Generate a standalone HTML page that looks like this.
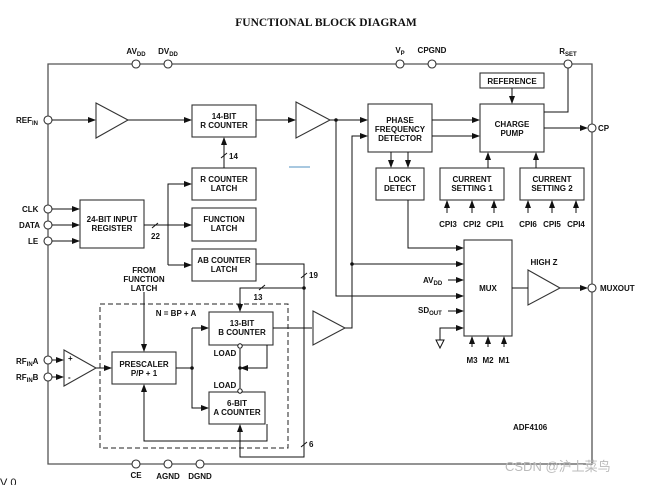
<!DOCTYPE html>
<html><head><meta charset="utf-8"><style>
body{margin:0;background:#fff}
svg{display:block}
text{font-family:"Liberation Sans",Arial,sans-serif;font-weight:bold;font-size:8px;fill:#111}
</style></head><body>
<svg width="657" height="485" viewBox="0 0 657 485" xmlns="http://www.w3.org/2000/svg">
<defs><marker id="a" markerWidth="8" markerHeight="6" refX="7" refY="3" orient="auto" markerUnits="userSpaceOnUse"><path d="M0,0L8,3L0,6z" fill="#111"/></marker></defs>
<text x="326" y="26" text-anchor="middle" style="font-family:'Liberation Serif',serif;font-size:11.5px">FUNCTIONAL BLOCK DIAGRAM</text>
<g fill="none" stroke="#333" stroke-width="1.3">
<path d="M48,64H592V464H48Z" stroke="#555"/>
</g>
<g fill="#fff" stroke="#333" stroke-width="1.1">
<circle cx="136" cy="64" r="4"/><circle cx="168" cy="64" r="4"/><circle cx="400" cy="64" r="4"/><circle cx="432" cy="64" r="4"/><circle cx="568" cy="64" r="4"/>
<circle cx="136" cy="464" r="4"/><circle cx="168" cy="464" r="4"/><circle cx="200" cy="464" r="4"/>
<circle cx="48" cy="120" r="4"/><circle cx="48" cy="209" r="4"/><circle cx="48" cy="225" r="4"/><circle cx="48" cy="241" r="4"/><circle cx="48" cy="360" r="4"/><circle cx="48" cy="377" r="4"/>
<circle cx="592" cy="128" r="4"/><circle cx="592" cy="288" r="4"/>
</g>
<g fill="#fff" stroke="#333" stroke-width="1.1">
<path d="M96,103L128,120L96,138Z"/><path d="M296,102L330,120L296,138Z"/><path d="M313,311L345,328L313,345Z"/><path d="M528,270L560,288L528,305Z"/><path d="M64,350L96,368L64,386Z"/>
<rect x="192" y="105" width="64" height="32"/><rect x="192" y="168" width="64" height="32"/><rect x="192" y="208" width="64" height="33"/><rect x="192" y="249" width="64" height="32"/>
<rect x="80" y="200" width="64" height="48"/>
<rect x="368" y="104" width="64" height="48"/><rect x="480" y="104" width="64" height="48"/><rect x="480" y="73" width="64" height="15"/>
<rect x="376" y="168" width="48" height="32"/><rect x="440" y="168" width="64" height="32"/><rect x="520" y="168" width="64" height="32"/>
<rect x="464" y="240" width="48" height="96"/>
<rect x="209" y="312" width="64" height="33"/><rect x="209" y="392" width="56" height="32"/><rect x="112" y="352" width="64" height="32"/>
</g>
<rect x="100" y="304" width="188" height="144" fill="none" stroke="#222" stroke-dasharray="5,3"/>
<g fill="none" stroke="#111" stroke-width="1">
<path d="M52,120H95" marker-end="url(#a)"/><path d="M128,120H191" marker-end="url(#a)"/><path d="M256,120H295" marker-end="url(#a)"/>
<path d="M52,209H79" marker-end="url(#a)"/><path d="M52,225H79" marker-end="url(#a)"/><path d="M52,241H79" marker-end="url(#a)"/>
<path d="M144,225H191" marker-end="url(#a)"/><path d="M168,265V184H191" marker-end="url(#a)"/><path d="M168,265H191" marker-end="url(#a)"/>
<path d="M224,168V138" marker-end="url(#a)"/><path d="M221,158l6,-5M152,228l6,-5"/>
<path d="M330,120H367" marker-end="url(#a)"/><path d="M336,120V296H463" marker-end="url(#a)"/>
<path d="M345,328H352V136H367" marker-end="url(#a)"/><path d="M352,264H463" marker-end="url(#a)"/>
<path d="M432,120H479" marker-end="url(#a)"/><path d="M432,136H479" marker-end="url(#a)"/>
<path d="M512,88V103" marker-end="url(#a)"/><path d="M544,112H568V68"/><path d="M544,128H587" marker-end="url(#a)"/>
<path d="M391,152V167" marker-end="url(#a)"/><path d="M408,152V167" marker-end="url(#a)"/>
<path d="M488,168V153" marker-end="url(#a)"/><path d="M536,168V153" marker-end="url(#a)"/>
<path d="M447,213V201" marker-end="url(#a)"/><path d="M472,213V201" marker-end="url(#a)"/><path d="M494,213V201" marker-end="url(#a)"/>
<path d="M528,213V201" marker-end="url(#a)"/><path d="M552,213V201" marker-end="url(#a)"/><path d="M576,213V201" marker-end="url(#a)"/>
<path d="M408,200V248H463" marker-end="url(#a)"/>
<path d="M448,280H463" marker-end="url(#a)"/><path d="M448,311H463" marker-end="url(#a)"/><path d="M440,340V328H463" marker-end="url(#a)"/>
<path d="M472,347V337" marker-end="url(#a)"/><path d="M488,347V337" marker-end="url(#a)"/><path d="M504,347V337" marker-end="url(#a)"/>
<path d="M512,288H528"/><path d="M560,288H587" marker-end="url(#a)"/>
<path d="M52,360H63" marker-end="url(#a)"/><path d="M52,377H63" marker-end="url(#a)"/><path d="M96,368H111" marker-end="url(#a)"/>
<path d="M144,292V351" marker-end="url(#a)"/>
<path d="M176,368H192"/><path d="M192,328H208" marker-end="url(#a)"/><path d="M192,328V408H208" marker-end="url(#a)"/>
<path d="M273,328H312"/>
<path d="M256,264H304V457H240V425" marker-end="url(#a)"/><path d="M304,288H240V311" marker-end="url(#a)"/>
<path d="M301,278l6,-5M259,290l6,-5M301,447l6,-5"/>
<path d="M240,349V388"/><path d="M267,345V368H241" marker-end="url(#a)"/>
<path d="M267,424V441H144V385" marker-end="url(#a)"/>
<path d="M436,340h8l-4,8z"/>
</g>
<g fill="#111"><circle cx="336" cy="120" r="1.8"/><circle cx="352" cy="264" r="1.8"/><circle cx="192" cy="368" r="1.8"/><circle cx="304" cy="288" r="1.8"/><circle cx="240" cy="368" r="1.8"/></g>
<g fill="#fff" stroke="#111"><circle cx="240" cy="346" r="2.2"/><circle cx="240" cy="391" r="2.2"/></g>
<path d="M289,167H310" stroke="#a8c8e0" stroke-width="2"/>
<g text-anchor="middle">
<text x="136" y="54">AV<tspan font-size="6" dy="2">DD</tspan></text><text x="168" y="54">DV<tspan font-size="6" dy="2">DD</tspan></text>
<text x="400" y="53">V<tspan font-size="6" dy="2">P</tspan></text><text x="432" y="53">CPGND</text><text x="568" y="54">R<tspan font-size="6" dy="2">SET</tspan></text>
<text x="136" y="478">CE</text><text x="168" y="479">AGND</text><text x="200" y="479">DGND</text>
<text x="224" y="119">14-BIT</text><text x="224" y="128">R COUNTER</text>
<text x="224" y="182">R COUNTER</text><text x="224" y="191">LATCH</text>
<text x="224" y="222">FUNCTION</text><text x="224" y="231">LATCH</text>
<text x="224" y="263">AB COUNTER</text><text x="224" y="272">LATCH</text>
<text x="112" y="222">24-BIT INPUT</text><text x="112" y="231">REGISTER</text>
<text x="400" y="123">PHASE</text><text x="400" y="132">FREQUENCY</text><text x="400" y="141">DETECTOR</text>
<text x="512" y="84">REFERENCE</text><text x="512" y="127">CHARGE</text><text x="512" y="136">PUMP</text>
<text x="400" y="182">LOCK</text><text x="400" y="191">DETECT</text>
<text x="472" y="182">CURRENT</text><text x="472" y="191">SETTING 1</text>
<text x="552" y="182">CURRENT</text><text x="552" y="191">SETTING 2</text>
<text x="448" y="227">CPI3</text><text x="472" y="227">CPI2</text><text x="495" y="227">CPI1</text>
<text x="528" y="227">CPI6</text><text x="552" y="227">CPI5</text><text x="576" y="227">CPI4</text>
<text x="488" y="291">MUX</text><text x="472" y="363">M3</text><text x="488" y="363">M2</text><text x="504" y="363">M1</text>
<text x="544" y="265">HIGH Z</text>
<text x="144" y="273">FROM</text><text x="144" y="282">FUNCTION</text><text x="144" y="291">LATCH</text>
<text x="176" y="316">N = BP + A</text>
<text x="242" y="326">13-BIT</text><text x="242" y="335">B COUNTER</text>
<text x="237" y="406">6-BIT</text><text x="237" y="415">A COUNTER</text>
<text x="144" y="367">PRESCALER</text><text x="144" y="376">P/P + 1</text>
<text x="225" y="356">LOAD</text><text x="225" y="388">LOAD</text>
<text x="258" y="300">13</text>
</g>
<text x="16" y="123">REF<tspan font-size="6" dy="2">IN</tspan></text>
<text x="22" y="212">CLK</text><text x="19" y="228">DATA</text><text x="28" y="244">LE</text>
<text x="16" y="364">RF<tspan font-size="6" dy="2">IN</tspan><tspan dy="-2">A</tspan></text>
<text x="16" y="380">RF<tspan font-size="6" dy="2">IN</tspan><tspan dy="-2">B</tspan></text>
<text x="229" y="159">14</text><text x="151" y="239">22</text><text x="309" y="278">19</text><text x="309" y="447">6</text>
<text x="598" y="131">CP</text><text x="600" y="291">MUXOUT</text>
<text x="423" y="283">AV<tspan font-size="6" dy="2">DD</tspan></text><text x="418" y="313">SD<tspan font-size="6" dy="2">OUT</tspan></text>
<text x="68" y="361" font-size="7">+</text><text x="68" y="380" font-size="8">-</text>
<text x="513" y="430" font-size="10">ADF4106</text>
<text x="0" y="486" style="font-weight:normal;font-size:11px">V 0</text>
<text x="505" y="471" style="font-weight:normal;font-size:13px;fill:#bbb;font-family:'Liberation Sans','Noto Sans CJK SC',sans-serif">CSDN @沪上菜鸟</text>
</svg>
</body></html>
